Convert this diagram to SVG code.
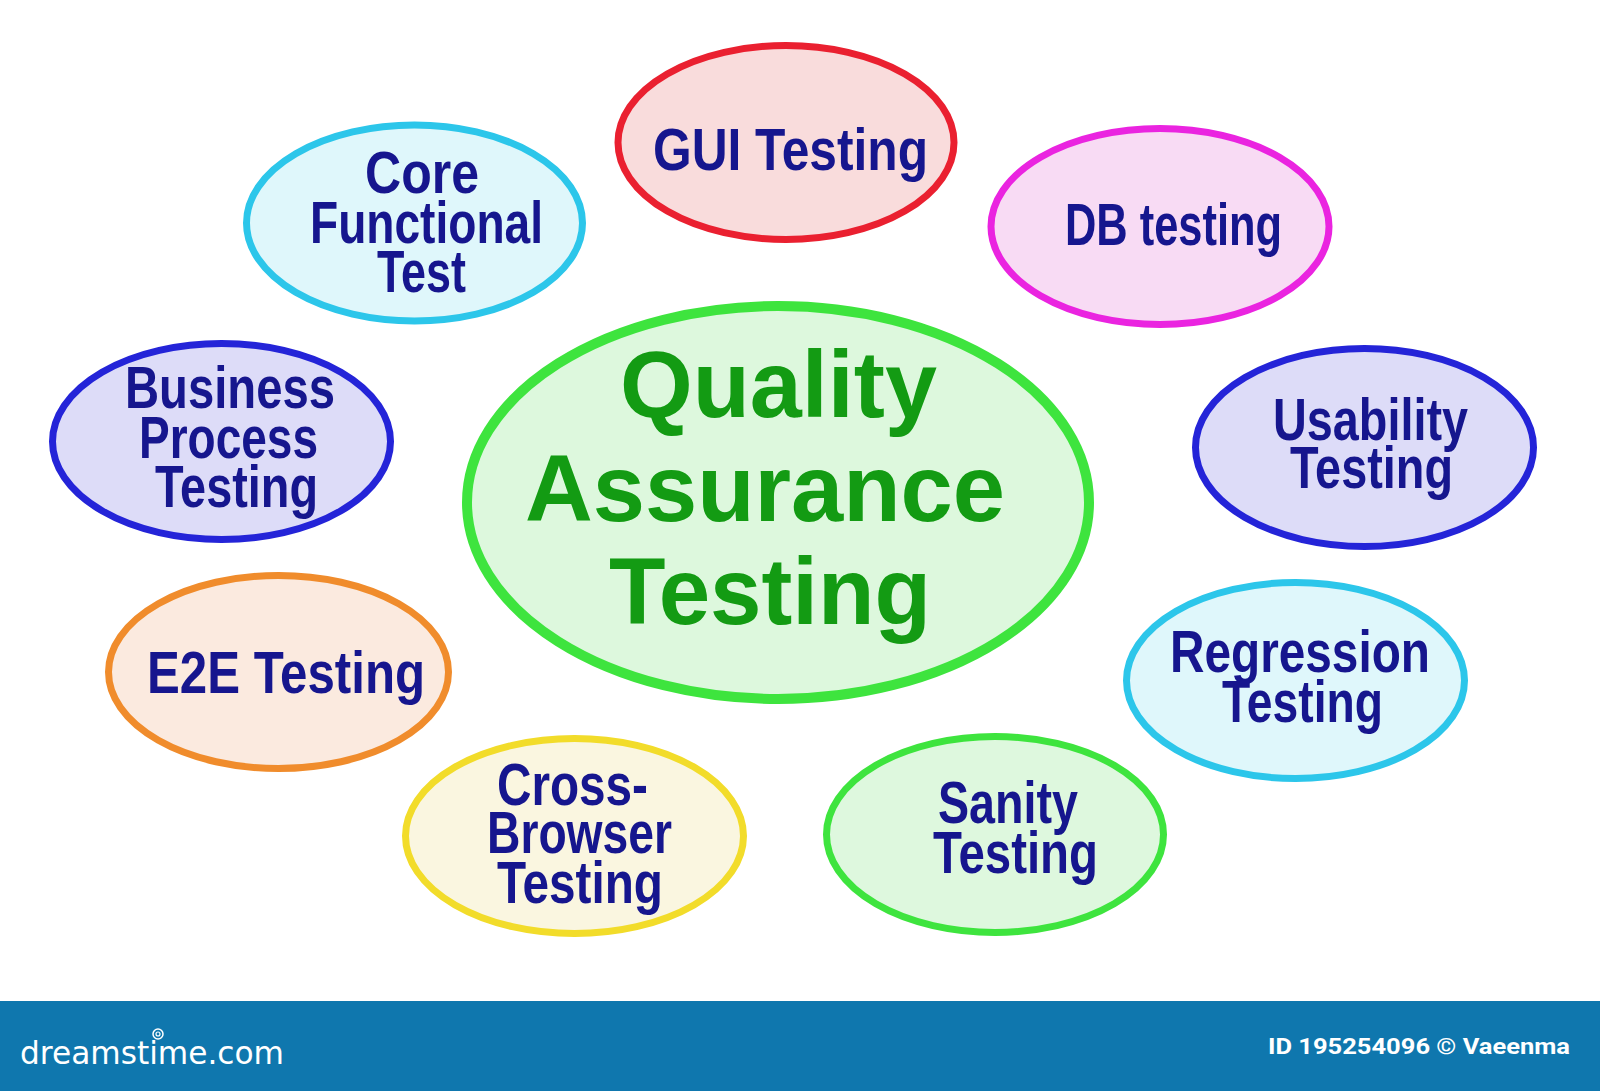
<svg xmlns="http://www.w3.org/2000/svg" width="1600" height="1091" viewBox="0 0 1600 1091">
<style>
.n text{font-family:"Liberation Sans",Arial,sans-serif;font-weight:bold;font-size:60px;fill:#16168e}
.n ellipse{stroke-width:7}
.c text{font-family:"Liberation Sans",Arial,sans-serif;font-weight:bold;font-size:95px;fill:#139b13}
.foot{font-family:Roboto,"Liberation Sans",sans-serif;font-weight:bold;fill:#ffffff}
</style>
<rect width="1600" height="1091" fill="#ffffff"/>
<g id="connectors"></g>
<g id="center" class="c">
<ellipse cx="778" cy="502.5" rx="311" ry="196.5" fill="#ddf8dd" stroke="#3ee43e" stroke-width="10"/>
<text x="620" y="417" textLength="317" lengthAdjust="spacingAndGlyphs">Quality</text>
<text x="525" y="521" textLength="480" lengthAdjust="spacingAndGlyphs">Assurance</text>
<text x="609" y="624" textLength="322" lengthAdjust="spacingAndGlyphs">Testing</text>
</g>
<g id="gui" class="n">
<ellipse cx="786" cy="142.5" rx="168" ry="97" fill="#f9dcdc" stroke="#ea2030"/>
<text x="653" y="170" textLength="275" lengthAdjust="spacingAndGlyphs">GUI Testing</text>
</g>
<g id="core" class="n">
<ellipse cx="414.5" cy="223" rx="168" ry="98" fill="#dff7fb" stroke="#2cc6ea"/>
<text x="365" y="193" textLength="114" lengthAdjust="spacingAndGlyphs">Core</text>
<text x="310" y="243" textLength="233" lengthAdjust="spacingAndGlyphs">Functional</text>
<text x="377" y="292" textLength="89" lengthAdjust="spacingAndGlyphs">Test</text>
</g>
<g id="db" class="n">
<ellipse cx="1160" cy="226.5" rx="169" ry="98" fill="#f8dbf4" stroke="#ea24e0"/>
<text x="1065" y="245" textLength="217" lengthAdjust="spacingAndGlyphs">DB testing</text>
</g>
<g id="business" class="n">
<ellipse cx="221.5" cy="441.5" rx="169" ry="98" fill="#dddcf8" stroke="#2424d8"/>
<text x="125" y="408" textLength="210" lengthAdjust="spacingAndGlyphs">Business</text>
<text x="139" y="458" textLength="179" lengthAdjust="spacingAndGlyphs">Process</text>
<text x="155" y="507" textLength="163" lengthAdjust="spacingAndGlyphs">Testing</text>
</g>
<g id="usability" class="n">
<ellipse cx="1364.5" cy="447.5" rx="169" ry="99" fill="#dddcf8" stroke="#2424d8"/>
<text x="1273" y="440" textLength="195" lengthAdjust="spacingAndGlyphs">Usability</text>
<text x="1290" y="488" textLength="163" lengthAdjust="spacingAndGlyphs">Testing</text>
</g>
<g id="e2e" class="n">
<ellipse cx="278.5" cy="672" rx="170" ry="96.5" fill="#fbeadf" stroke="#f08c2c"/>
<text x="147" y="693" textLength="278" lengthAdjust="spacingAndGlyphs">E2E Testing</text>
</g>
<g id="regression" class="n">
<ellipse cx="1295.5" cy="680.5" rx="169" ry="98" fill="#dff7fb" stroke="#2cc6ea"/>
<text x="1170" y="672" textLength="260" lengthAdjust="spacingAndGlyphs">Regression</text>
<text x="1222" y="722" textLength="161" lengthAdjust="spacingAndGlyphs">Testing</text>
</g>
<g id="cross" class="n">
<ellipse cx="574.5" cy="836" rx="169" ry="97.5" fill="#faf6e0" stroke="#f2dc2a"/>
<text x="497" y="805" textLength="151" lengthAdjust="spacingAndGlyphs">Cross-</text>
<text x="487" y="853" textLength="185" lengthAdjust="spacingAndGlyphs">Browser</text>
<text x="497" y="903" textLength="166" lengthAdjust="spacingAndGlyphs">Testing</text>
</g>
<g id="sanity" class="n">
<ellipse cx="995" cy="834.5" rx="168.5" ry="98" fill="#def8de" stroke="#3ee43e"/>
<text x="938" y="823" textLength="140" lengthAdjust="spacingAndGlyphs">Sanity</text>
<text x="933" y="873" textLength="165" lengthAdjust="spacingAndGlyphs">Testing</text>
</g>
<g id="footer">
<rect x="0" y="1001" width="1600" height="90" fill="#0f77ae"/>
<circle cx="158" cy="1034" r="5" fill="none" stroke="#ffffff" stroke-width="1.5"/>
<circle cx="158" cy="1034" r="2" fill="none" stroke="#ffffff" stroke-width="1.2"/>
<text x="20" y="1064" font-family="DejaVu Sans,sans-serif" font-size="32" fill="#ffffff" textLength="264" lengthAdjust="spacingAndGlyphs">dreamstime.com</text>
<text class="foot" x="1268" y="1054" font-size="22" textLength="302" lengthAdjust="spacingAndGlyphs">ID 195254096 © Vaeenma</text>
</g>
</svg>
